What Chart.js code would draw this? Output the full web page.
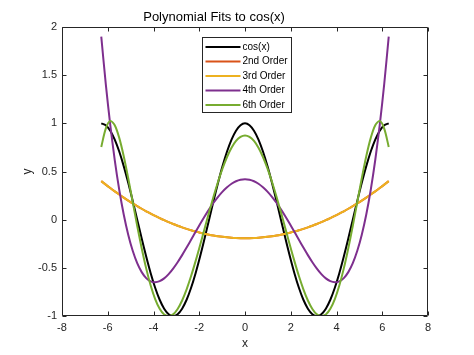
<!DOCTYPE html>
<html><head><meta charset="utf-8">
<script src="https://cdn.jsdelivr.net/npm/chart.js@4.4.1/dist/chart.umd.min.js"></script>
<style>html,body{margin:0;padding:0;background:#fff;}</style>
</head><body>
<canvas id="c" width="474" height="355"></canvas>
<script>
// x sample positions (-2*pi .. 2*pi)
const xValues = [-6.2832,-6.0868,-5.8905,-5.6941,-5.4978,-5.3014,-5.1051,-4.9087,-4.7124,-4.5160,-4.3197,-4.1233,-3.9270,-3.7306,-3.5343,-3.3379,-3.1416,-2.9452,-2.7489,-2.5525,-2.3562,-2.1598,-1.9635,-1.7671,-1.5708,-1.3744,-1.1781,-0.9817,-0.7854,-0.5890,-0.3927,-0.1963,0,
 0.1963,0.3927,0.5890,0.7854,0.9817,1.1781,1.3744,1.5708,1.7671,1.9635,2.1598,2.3562,2.5525,2.7489,2.9452,3.1416,3.3379,3.5343,3.7306,3.9270,4.1233,4.3197,4.5160,4.7124,4.9087,5.1051,5.3014,5.4978,5.6941,5.8905,6.0868,6.2832];

const cosValues = [1,0.9808,0.9239,0.8315,0.7071,0.5556,0.3827,0.1951,0,-0.1951,-0.3827,-0.5556,-0.7071,-0.8315,-0.9239,-0.9808,-1,-0.9808,-0.9239,-0.8315,-0.7071,-0.5556,-0.3827,-0.1951,0,0.1951,0.3827,0.5556,0.7071,0.8315,0.9239,0.9808,1,
 0.9808,0.9239,0.8315,0.7071,0.5556,0.3827,0.1951,0,-0.1951,-0.3827,-0.5556,-0.7071,-0.8315,-0.9239,-0.9808,-1,-0.9808,-0.9239,-0.8315,-0.7071,-0.5556,-0.3827,-0.1951,0,0.1951,0.3827,0.5556,0.7071,0.8315,0.9239,0.9808,1];

const order2Values = [0.4000,0.3635,0.3282,0.2940,0.2610,0.2292,0.1985,0.1689,0.1406,0.1133,0.0873,0.0624,0.0386,0.0161,-0.0054,-0.0256,-0.0448,-0.0627,-0.0795,-0.0951,-0.1096,-0.1229,-0.1351,-0.1461,-0.1559,-0.1646,-0.1722,-0.1785,-0.1837,-0.1878,-0.1907,-0.1924,-0.1930,
 -0.1924,-0.1907,-0.1878,-0.1837,-0.1785,-0.1722,-0.1646,-0.1559,-0.1461,-0.1351,-0.1229,-0.1096,-0.0951,-0.0795,-0.0627,-0.0448,-0.0256,-0.0054,0.0161,0.0386,0.0624,0.0873,0.1133,0.1406,0.1689,0.1985,0.2292,0.2610,0.2940,0.3282,0.3635,0.4000];

const order3Values = [0.4000,0.3635,0.3282,0.2940,0.2610,0.2292,0.1985,0.1689,0.1406,0.1133,0.0873,0.0624,0.0386,0.0161,-0.0054,-0.0256,-0.0448,-0.0627,-0.0795,-0.0951,-0.1096,-0.1229,-0.1351,-0.1461,-0.1559,-0.1646,-0.1722,-0.1785,-0.1837,-0.1878,-0.1907,-0.1924,-0.1930,
 -0.1924,-0.1907,-0.1878,-0.1837,-0.1785,-0.1722,-0.1646,-0.1559,-0.1461,-0.1351,-0.1229,-0.1096,-0.0951,-0.0795,-0.0627,-0.0448,-0.0256,-0.0054,0.0161,0.0386,0.0624,0.0873,0.1133,0.1406,0.1689,0.1985,0.2292,0.2610,0.2940,0.3282,0.3635,0.4000];

const order4Values = [1.9000,1.4092,0.9839,0.6193,0.3107,0.0536,-0.1564,-0.3234,-0.4515,-0.5445,-0.6063,-0.6403,-0.6500,-0.6387,-0.6093,-0.5649,-0.5083,-0.4419,-0.3683,-0.2899,-0.2086,-0.1266,-0.0456,0.0327,0.1068,0.1753,0.2372,0.2912,0.3366,0.3727,0.3988,0.4147,0.4200,
 0.4147,0.3988,0.3727,0.3366,0.2912,0.2372,0.1753,0.1068,0.0327,-0.0456,-0.1266,-0.2086,-0.2899,-0.3683,-0.4419,-0.5083,-0.5649,-0.6093,-0.6387,-0.6500,-0.6403,-0.6063,-0.5445,-0.4515,-0.3234,-0.1564,0.0536,0.3107,0.6193,0.9839,1.4092,1.9000];

const order6Values = [0.7550,0.9450,1.0250,0.9800,0.8490,0.6588,0.4301,0.1839,-0.0627,-0.2960,-0.5055,-0.6833,-0.8242,-0.9250,-0.9846,-1.0034,-0.9832,-0.9269,-0.8387,-0.7230,-0.5852,-0.4306,-0.2652,-0.0946,0.0756,0.2400,0.3935,0.5316,0.6504,0.7464,0.8169,0.8600,0.8745,
 0.8600,0.8169,0.7464,0.6504,0.5316,0.3935,0.2400,0.0756,-0.0946,-0.2652,-0.4306,-0.5852,-0.7230,-0.8387,-0.9269,-0.9832,-1.0034,-0.9846,-0.9250,-0.8242,-0.6833,-0.5055,-0.2960,-0.0627,0.1839,0.4301,0.6588,0.8490,0.9800,1.0250,0.9450,0.7550];

const seriesNames = ['cos(x)','2nd Order','3rd Order','4th Order','6th Order'];
const seriesColors = ['#000000','#D95319','#EDB120','#7E2F8E','#77AC30'];
const seriesValues = [cosValues, order2Values, order3Values, order4Values, order6Values];
const xTickStep = 2, xMin = -8, xMax = 8;
const yTickStep = 0.5, yMin = -1, yMax = 2;
const titleText = 'Polynomial Fits to cos(x)';
const xLabel = 'x', yLabel = 'y';

const FONT = '"Liberation Sans", Arial, Helvetica, sans-serif';
const AX = '#262626';

const datasets = seriesNames.map((name, i) => ({
  label: name,
  data: xValues.map((x, j) => ({x: x, y: seriesValues[i][j]})),
  borderColor: seriesColors[i],
  backgroundColor: seriesColors[i],
  borderWidth: 2,
  pointRadius: 0,
  tension: 0.3,
  fill: false,
  order: seriesNames.length - i
}));

const fmt = v => String(Math.round(v * 100) / 100);

const framePlugin = {
  id: 'frame',
  afterDatasetsDraw(chart) {
    const ctx = chart.ctx, a = chart.chartArea;
    const L = Math.round(a.left) + 0.5, R = Math.round(a.right) - 0.5;
    const T = Math.round(a.top) + 0.5, B = Math.round(a.bottom) - 0.5;
    ctx.save();
    ctx.strokeStyle = AX; ctx.lineWidth = 1;
    ctx.beginPath();
    ctx.rect(L, T, R - L, B - T);
    const tl = 4;
    chart.scales.x.ticks.forEach(t => {
      const px = Math.round(chart.scales.x.getPixelForValue(t.value)) + 0.5;
      ctx.moveTo(px, B); ctx.lineTo(px, B - tl);
      ctx.moveTo(px, T); ctx.lineTo(px, T + tl);
    });
    chart.scales.y.ticks.forEach(t => {
      const py = Math.round(chart.scales.y.getPixelForValue(t.value)) + 0.5;
      ctx.moveTo(L, py); ctx.lineTo(L + tl, py);
      ctx.moveTo(R, py); ctx.lineTo(R - tl, py);
    });
    ctx.stroke();

    // legend (north, inside axes)
    const ds = chart.data.datasets;
    const rowH = 14.5, boxW = 89, boxH = 75;
    const bx = Math.round((a.left + a.right) / 2 - boxW / 2) + 1.5;
    const by = Math.round(a.top + 10) + 0.5;
    ctx.fillStyle = '#ffffff';
    ctx.fillRect(bx, by, boxW, boxH);
    ctx.strokeStyle = AX; ctx.lineWidth = 1;
    ctx.strokeRect(bx, by, boxW, boxH);
    ctx.font = '10px ' + FONT;
    ctx.textBaseline = 'middle';
    ctx.textAlign = 'left';
    ds.forEach((d, i) => {
      const cy = by + 9.5 + i * rowH;
      ctx.strokeStyle = d.borderColor; ctx.lineWidth = 2;
      ctx.beginPath(); ctx.moveTo(bx + 3, cy); ctx.lineTo(bx + 38, cy); ctx.stroke();
      ctx.fillStyle = '#000000';
      ctx.fillText(d.label, bx + 40, cy);
    });
    ctx.restore();
  }
};

new Chart(document.getElementById('c'), {
  type: 'line',
  data: { datasets: datasets },
  options: {
    responsive: false,
    animation: false,
    devicePixelRatio: 1,
    layout: { padding: { left: 0, right: 46, top: 0, bottom: 0 } },
    plugins: {
      legend: { display: false },
      tooltip: { enabled: false },
      title: { display: true, text: titleText, color: '#000000',
        font: { family: FONT, size: 13, weight: 'normal', lineHeight: 1.2 },
        padding: { top: 10, bottom: 1.4 } }
    },
    scales: {
      x: { type: 'linear', min: xMin, max: xMax,
        ticks: { stepSize: xTickStep, color: AX, padding: 5, maxRotation: 0, autoSkip: false,
          font: { family: FONT, size: 11 }, callback: fmt },
        grid: { display: false, drawTicks: false },
        border: { display: false },
        title: { display: true, text: xLabel, color: AX, font: { family: FONT, size: 12, lineHeight: 1.2 }, padding: { top: 0, bottom: 3.8 } },
        afterFit(s) { s.height = 39; } },
      y: { type: 'linear', min: yMin, max: yMax,
        ticks: { stepSize: yTickStep, color: AX, padding: 5, autoSkip: false,
          font: { family: FONT, size: 11 }, callback: fmt },
        grid: { display: false, drawTicks: false },
        border: { display: false },
        title: { display: true, text: yLabel, color: AX, font: { family: FONT, size: 12, lineHeight: 1.2 }, padding: { top: 20.5, bottom: 0 } },
        afterFit(s) { s.width = 62; } }
    }
  },
  plugins: [framePlugin]
});
</script>
</body></html>
